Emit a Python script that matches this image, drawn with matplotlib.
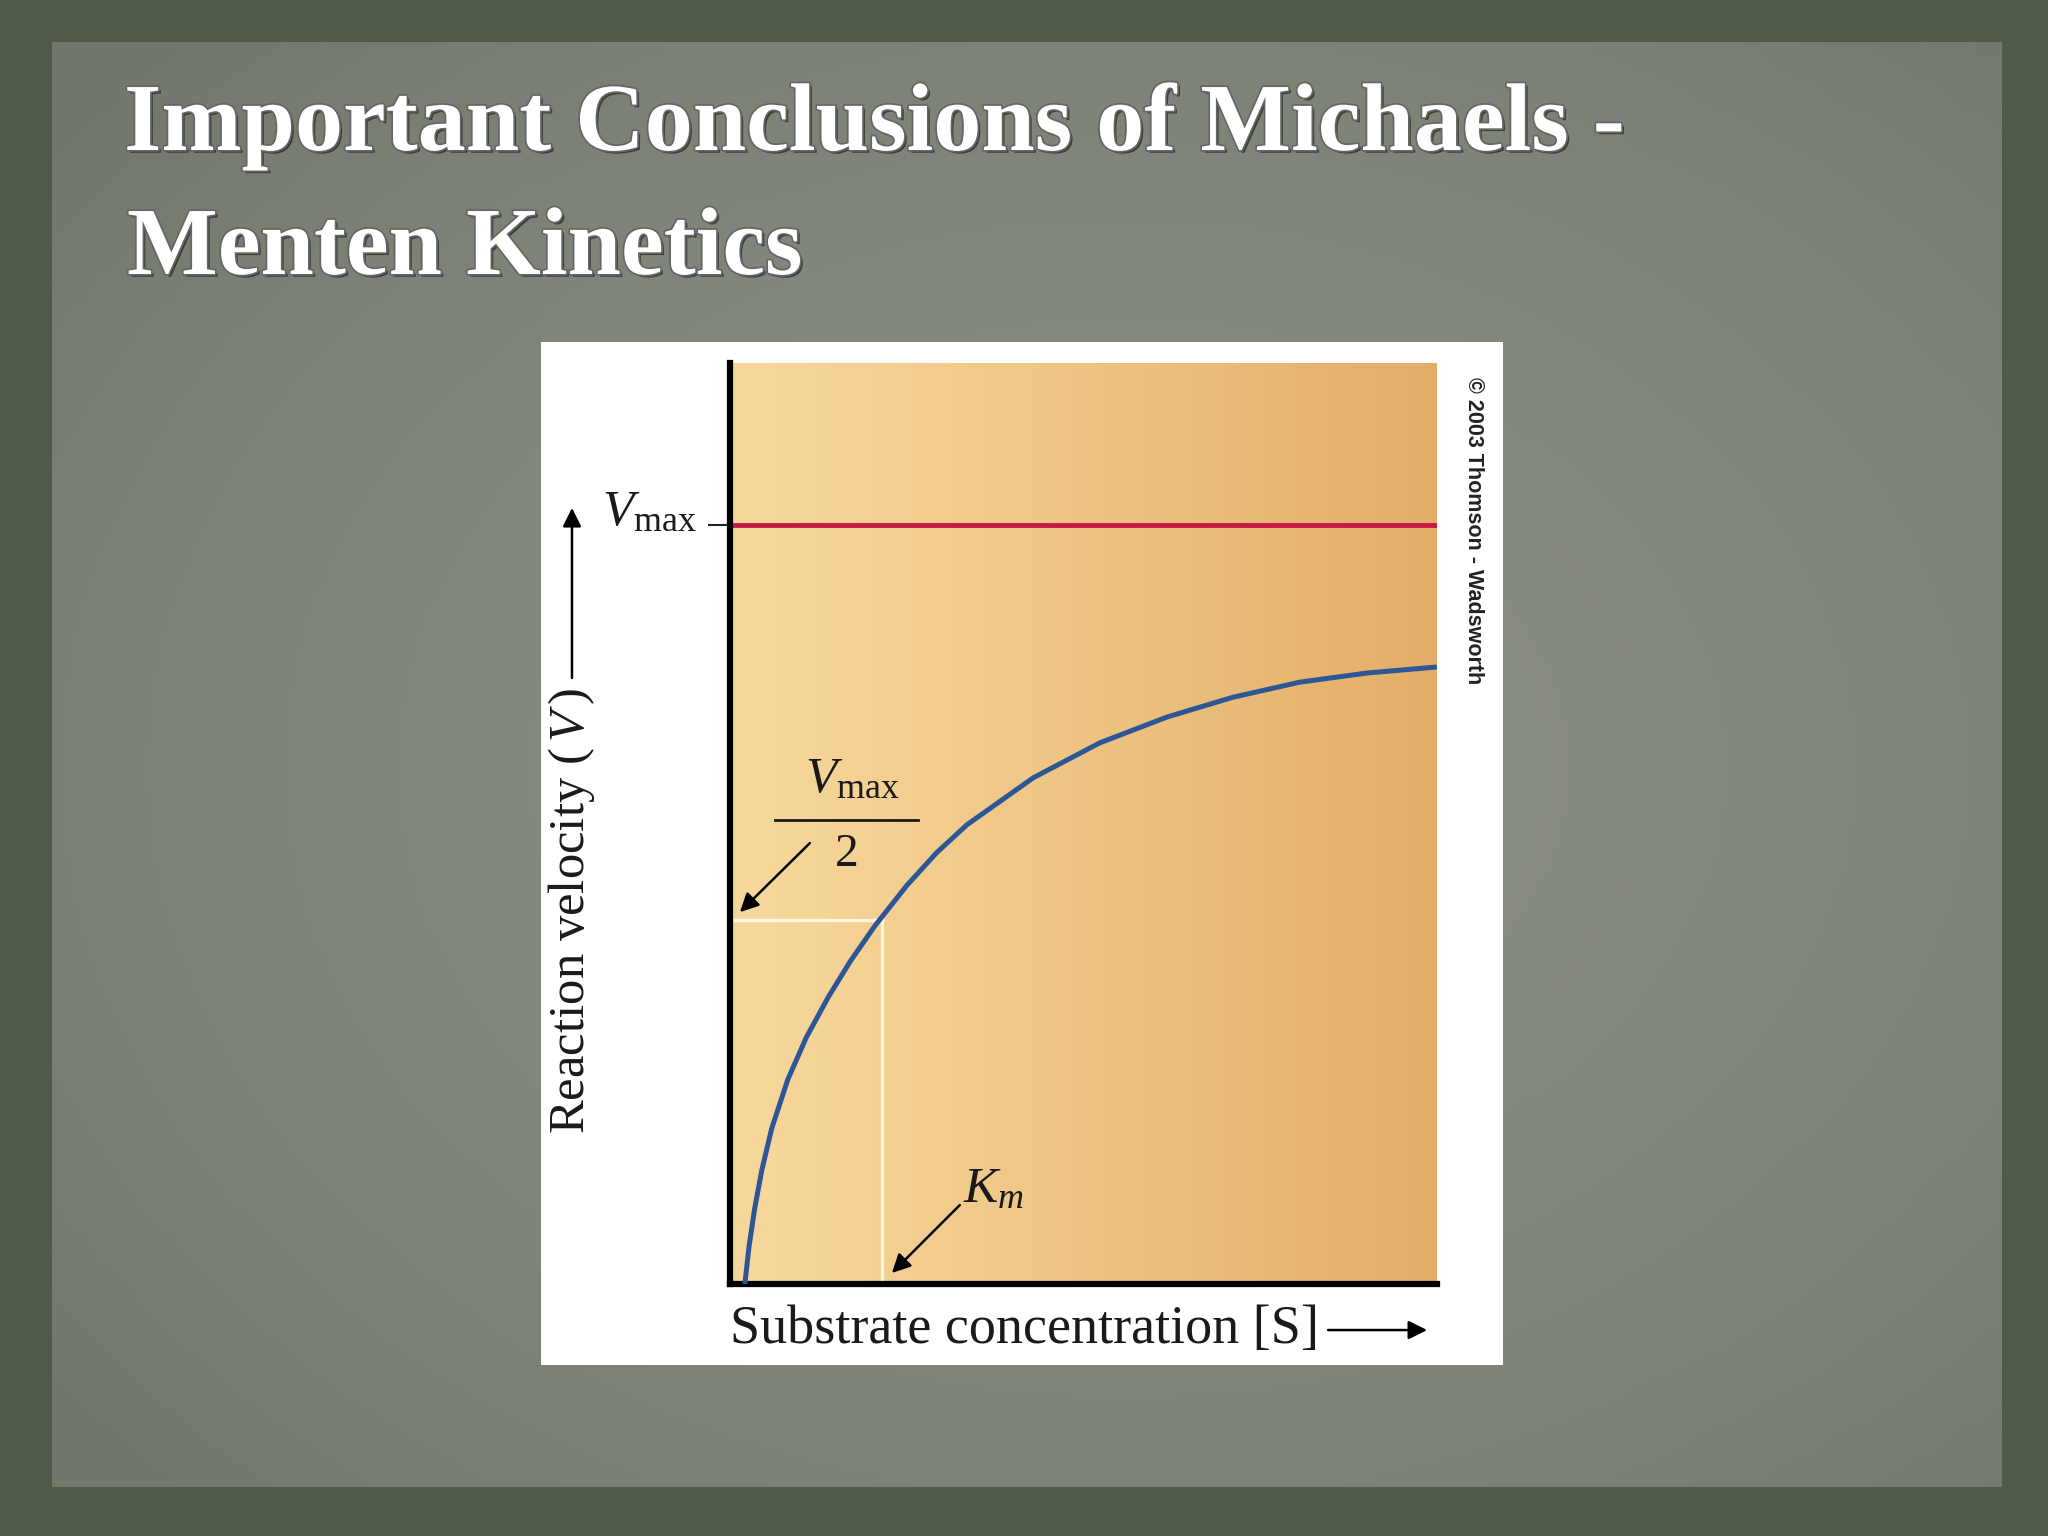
import numpy as np
import matplotlib
matplotlib.use("Agg")
import matplotlib.pyplot as plt
from matplotlib.patches import Rectangle
import matplotlib.patheffects as pe

# ---------------------------------------------
# Datos (Vmax = 1, eje x en unidades arbitrarias 0..10)

s_conc = [0.21, 0.27, 0.35, 0.45, 0.59, 0.82, 1.08, 1.39, 1.70, 2.05, 2.50,
          2.92, 3.35, 4.29, 5.23, 6.18, 7.11, 8.06, 9.01, 10.0]
velocity = [0.0, 0.050, 0.100, 0.150, 0.205, 0.270, 0.325, 0.378, 0.425, 0.472,
            0.525, 0.568, 0.605, 0.667, 0.713, 0.747, 0.773, 0.793, 0.805, 0.813]
v_max = 1.0
half_v = 0.48
k_m = 2.15

title_lines = ["Important Conclusions of Michaels -", "Menten Kinetics"]
x_label = "Substrate concentration [S]"
y_label = "Reaction velocity ($\\,V\\,$)"
credit = "\u00a9 2003 Thomson - Wadsworth"

# ---------------------------------------------

plt.rcParams['font.family'] = ['Liberation Serif', 'DejaVu Serif']
plt.rcParams['mathtext.fontset'] = 'custom'
plt.rcParams['mathtext.rm'] = 'Liberation Serif'
plt.rcParams['mathtext.it'] = 'Liberation Serif:italic'
plt.rcParams['mathtext.bf'] = 'Liberation Serif:bold'

W, H = 2048, 1536
fig = plt.figure(figsize=(W / 100, H / 100), dpi=100)
fig.patch.set_facecolor('#505a48')

# fondo: panel gris verdoso con un poco de vineta (coordenadas en pixeles)
bg = fig.add_axes([0, 0, 1, 1])
bg.set_zorder(-5)
bg.set_xlim(0, W)
bg.set_ylim(H, 0)
bg.axis('off')
yy, xx = np.mgrid[0:1:200j, 0:1:260j]
vig = 1 - 0.9 * ((xx - 0.55) ** 2 + (yy - 0.5) ** 2)
c_in = np.array([0.535, 0.553, 0.512])
c_out = np.array([0.445, 0.470, 0.420])
img = c_out + (c_in - c_out) * np.clip((vig - 0.6) / 0.4, 0, 1)[..., None]
panel = Rectangle((52, 42), 1950, 1445, facecolor='none', edgecolor='none')
bg.add_patch(panel)
im = bg.imshow(img, extent=(0, W, H, 0), aspect='auto', zorder=0)
im.set_clip_path(panel)

# cuadro blanco de la figura
bg.add_patch(Rectangle((541, 342), 962, 1023, facecolor='white', edgecolor='none', zorder=2))

# titulo blanco con sombra
title_fx = [pe.SimplePatchShadow(offset=(2, -2), shadow_rgbFace='#2c3328', alpha=0.8),
            pe.withStroke(linewidth=2.5, foreground='#666666')]
t1 = fig.text(124 / W, 1 - 150 / H, title_lines[0], color='white', fontsize=70,
              fontweight='bold', ha='left', va='baseline', path_effects=title_fx)
t2 = fig.text(127 / W, 1 - 274 / H, title_lines[1], color='white', fontsize=70,
              fontweight='bold', ha='left', va='baseline', path_effects=title_fx)
fig.canvas.draw()
bb = t1.get_window_extent()
size = 70 * 1502 / bb.width
t1.set_fontsize(size)
t2.set_fontsize(size)

# ---------------------------------------------
# grafica

ax = fig.add_axes([730 / W, 1 - 1284 / H, 707 / W, 921 / H])
ax.set_xlim(0, 10)
ax.set_ylim(0, 1.2135)

grad = np.linspace(0, 1, 256)[None, :, None]
left_c = np.array([247, 216, 156]) / 255
right_c = np.array([227, 173, 103]) / 255
ax.imshow(left_c + (right_c - left_c) * grad ** 1.1, extent=(0, 10, 0, 1.2135),
          aspect='auto', zorder=0)

ax.axhline(v_max, color='#c61a43', lw=3.5, zorder=2)
ax.plot([0, k_m], [half_v, half_v], color='#fff7de', lw=2.4, zorder=2)
ax.plot([k_m, k_m], [0, half_v], color='#fff7de', lw=2.4, zorder=2)
ax.plot(s_conc, velocity, color='#2d5697', lw=3.6, solid_capstyle='butt',
        solid_joinstyle='round', zorder=3)

for side in ['top', 'right']:
    ax.spines[side].set_visible(False)
for side in ['left', 'bottom']:
    ax.spines[side].set_linewidth(4.5)
    ax.spines[side].set_color('black')
ax.set_xticks([])
ax.set_yticks([v_max])
ax.set_yticklabels([''])
ax.tick_params(axis='y', length=16, width=1.5, color='#222222', direction='out')

# etiquetas
ax.text(-0.467, v_max, "$V_{\\mathrm{max}}$", fontsize=37, ha='right', va='baseline',
        color='#1a1a1a')
ax.text(1.73, 0.648, "$V_{\\mathrm{max}}$", fontsize=37, ha='center', va='baseline',
        color='#1a1a1a')
ax.plot([0.64, 2.66], [0.611, 0.611], color='#1a1a1a', lw=2.0, zorder=4)
ax.text(1.65, 0.565, "2", fontsize=34, ha='center', va='center', color='#1a1a1a')
ax.text(3.30, 0.108, "$K_m$", fontsize=37, ha='left', va='baseline', color='#1a1a1a')

arrow_kw = dict(arrowstyle='-|>', color='black', lw=1.8, mutation_scale=28,
                shrinkA=0, shrinkB=0)
ax.annotate('', xy=(0.14, 0.490), xytext=(1.13, 0.581), arrowprops=arrow_kw)
ax.annotate('', xy=(2.29, 0.0145), xytext=(3.25, 0.104), arrowprops=arrow_kw)

ax.text(0.0, -0.064, x_label, transform=ax.transAxes, fontsize=39,
        ha='left', va='baseline', color='#1a1a1a')
ax.annotate('', xy=(0.986, -0.050), xytext=(0.846, -0.050), xycoords='axes fraction',
            textcoords='axes fraction', arrowprops=arrow_kw, annotation_clip=False)

ax.text(-0.2235, (1284 - 1134) / 921, y_label, transform=ax.transAxes, fontsize=36.5,
        rotation=90, ha='center', va='bottom', color='#1a1a1a')
ax.annotate('', xy=(-0.2235, 0.8426), xytext=(-0.2235, 0.658), xycoords='axes fraction',
            textcoords='axes fraction', arrowprops=arrow_kw, annotation_clip=False)

ax.text(1.051, 0.985, credit, transform=ax.transAxes, fontsize=15.5, rotation=-90,
        ha='center', va='top', color='#222222', fontfamily='Liberation Sans',
        fontweight='bold')

fig.savefig('out.png', dpi=100, facecolor=fig.get_facecolor())
